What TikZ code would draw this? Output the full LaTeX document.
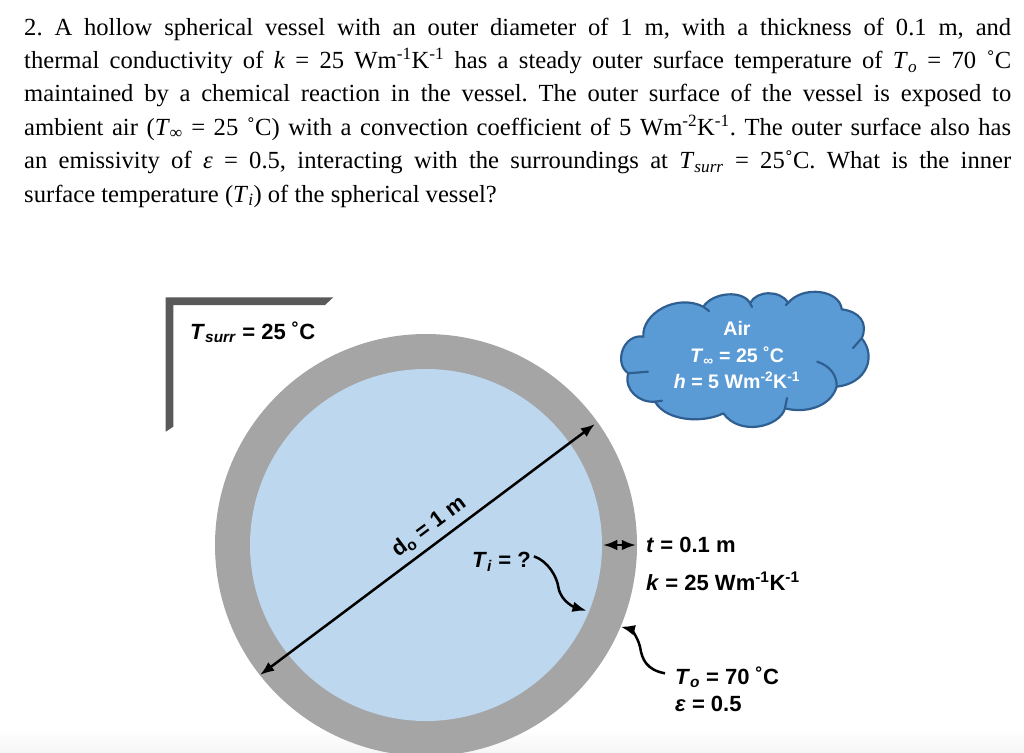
\documentclass[tikz,border=0pt]{standalone}
\usepackage{fontspec}
\setmainfont{Liberation Serif}
\newfontfamily\labelfont{Liberation Sans}
\usepackage{xcolor}
\usetikzlibrary{positioning,arrows.meta}
\definecolor{wallgray}{HTML}{A5A5A5}
\definecolor{innerblue}{HTML}{BDD7EE}
\definecolor{cloudblue}{HTML}{5B9BD5}
\definecolor{cloudline}{HTML}{2F5F91}
\definecolor{bracketgray}{HTML}{595959}
\definecolor{pagefade}{HTML}{F6F6F6}
\newcommand{\ital}[1]{\textit{#1}}
\newcommand{\lowtxt}[1]{\textsubscript{#1}}
\newcommand{\hightxt}[1]{\textsuperscript{#1}}

\begin{document}
\begin{tikzpicture}[
    x=1pt, y=-1pt,
    >=Latex,
    body/.style={anchor=north west, inner sep=0pt, text width=987pt, align=justify,
        font=\frenchspacing\fontsize{24.6}{33.4}\selectfont},
    lab/.style={anchor=base west, inner sep=0pt, font=\labelfont\bfseries\fontsize{22}{26}\selectfont},
    airlab/.style={anchor=center, inner sep=0pt, align=center, text=white,
        font=\labelfont\bfseries\fontsize{19.6}{26.6}\selectfont},
    dim/.style={<->, line width=2.5pt},
    curvy/.style={->, line width=2.5pt}
]
\clip (0,0) rectangle (1024,752);
\shade[top color=white, bottom color=pagefade] (0,728) rectangle (1024,752);

% === Problem statement ===
\node[body] (statement) at (24,17.5) {2. A hollow spherical vessel with an outer diameter of 1 m, with a thickness of 0.1 m, and\linebreak
thermal conductivity of \ital{k} = 25 Wm\hightxt{-1}K\hightxt{-1} has a steady outer surface temperature of \ital{T}\lowtxt{\ital{o}} = 70 ˚C\linebreak
maintained by a chemical reaction in the vessel. The outer surface of the vessel is exposed to\linebreak
ambient air (\ital{T}\lowtxt{\ital{∞}} = 25 ˚C) with a convection coefficient of 5 Wm\hightxt{-2}K\hightxt{-1}. The outer surface also has\linebreak
an emissivity of \ital{ε} = 0.5, interacting with the surroundings at \ital{T}\lowtxt{\ital{surr}} = 25˚C. What is the inner\linebreak
surface temperature (\ital{T}\lowtxt{\ital{i}}) of the spherical vessel?};

% === Vessel ===
\def\cenX{426}
\def\cenY{545}
\fill[wallgray] (\cenX,\cenY) circle (211);
\fill[innerblue] (\cenX,\cenY) circle (176);

% === Surroundings bracket ===
\fill[bracketgray] (165.7,297.3) -- (333.3,297.3) -- (325,305) -- (173.3,305)
    -- (173.3,426.7) -- (165.7,431.7) -- cycle;
\node[lab] (tsurr) at (190,339) {\ital{T}\lowtxt{\ital{surr}} = 25 ˚C};

% === Air cloud ===
\def\cloudpath{(643.3,336.7)
    .. controls (641.7,313.3) and (676.7,293.3) .. (703.3,306.7)
    .. controls (713.3,291.7) and (743.3,290) .. (750,303.3)
    .. controls (756.7,290) and (780,290) .. (788.3,302.7)
    .. controls (803.3,285) and (840,290) .. (841.7,309.3)
    .. controls (860,311.7) and (868.3,323.3) .. (861.7,338.3)
    .. controls (876.7,356.7) and (866.7,383.3) .. (836.7,386.7)
    .. controls (830,408.3) and (803.3,413.3) .. (785,408.3)
    .. controls (780,426.7) and (740,436.7) .. (723.3,413.3)
    .. controls (703.3,423.3) and (666.7,421.7) .. (655,401.7)
    .. controls (640,403.3) and (623.3,390) .. (628.3,373.3)
    .. controls (613.3,363.3) and (623.3,333.3) .. (643.3,336.7) -- cycle}
\fill[cloudblue] \cloudpath;
\draw[cloudline, line width=2.2pt, line join=round] \cloudpath;
\draw[cloudline, line width=2.2pt, line cap=round]
    (703.3,306.7) -- (709,311)
    (750,303.3) -- (752,307)
    (788.3,302.7) -- (786,305)
    (861.7,338.3) -- (853,348)
    (836.7,386.7) .. controls (837,375) and (830,366) .. (817.3,361.7)
    (785,408.3) -- (787,398)
    (655,401.7) -- (662,400.7)
    (628.3,373.3) -- (648,371.7);
\node[airlab] (air) at (737,355) {Air\\\ital{T}\lowtxt{\ital{∞}} = 25 ˚C\\\ital{h} = 5 Wm\hightxt{-2}K\hightxt{-1}};

% === Diameter ===
\coordinate (diaA) at (595,424);
\coordinate (diaB) at (260,675);
\draw[dim] (diaA) -- (diaB);
\node[lab, anchor=center, rotate=36.8] (dia) at (429,527) {d\lowtxt{o} = 1 m};

% === Wall thickness ===
\coordinate (wallin) at (603,545);
\coordinate (wallout) at (636,545);
\draw[dim] (wallin) -- (wallout);
\node[lab] (thick) at (646,552) {\ital{t} = 0.1 m};
\node[lab] (cond) at (646,590) {\ital{k} = 25 Wm\hightxt{-1}K\hightxt{-1}};

% === Inner surface ===
\node[lab] (tin) at (472,567) {\ital{T}\lowtxt{\ital{i}} = ?};
\coordinate (inpt) at (586.7,610.7);
\draw[curvy] (tin.east) ++(3,-5) .. controls (548,561) and (557,577) .. (558.3,587)
    .. controls (561,603) and (577,608) .. (inpt);

% === Outer surface ===
\node[lab] (tout) at (675,684) {\ital{T}\lowtxt{\ital{o}} = 70 ˚C};
\node[lab] (emis) at (675,711) {\ital{ε} = 0.5};
\coordinate (outpt) at (620.7,626.7);
\draw[curvy] (665,673.3) .. controls (647,670) and (642,660) .. (640,646.7)
    .. controls (637,635) and (630,629) .. (outpt);
\end{tikzpicture}
\end{document}
